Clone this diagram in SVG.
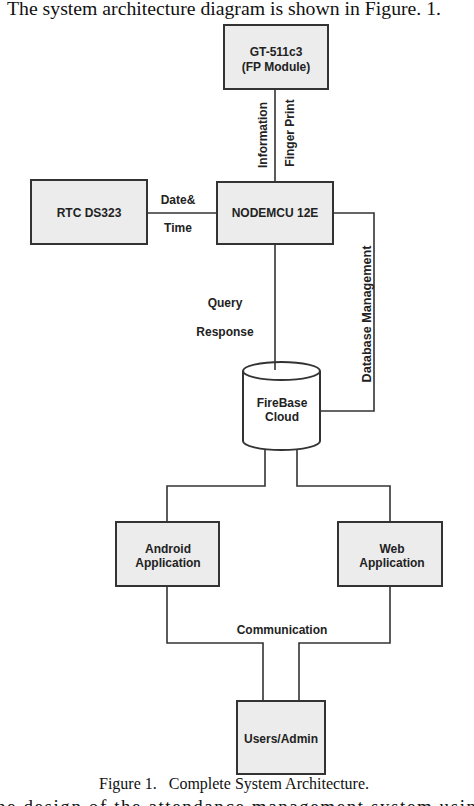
<svg xmlns="http://www.w3.org/2000/svg" width="474" height="806" viewBox="0 0 474 806">
<style>
.box{fill:#ececec;stroke:#333;stroke-width:2}
.ln{fill:none;stroke:#333;stroke-width:1.6}
.lb{font-family:"Liberation Sans",Arial,sans-serif;font-weight:bold;font-size:12px;fill:#222;text-anchor:middle}
.ser{font-family:"Liberation Serif","Times New Roman",serif;fill:#111}
</style>
<rect width="474" height="806" fill="#fff"/>
<text class="ser" x="7" y="15" font-size="18" textLength="434" lengthAdjust="spacingAndGlyphs">The system architecture diagram is shown in Figure. 1.</text>
<g id="connectors">
<line class="ln" x1="275" y1="89" x2="275" y2="182"/>
<line class="ln" x1="147" y1="213" x2="217" y2="213"/>
<line class="ln" x1="275" y1="244" x2="275" y2="370"/>
<polyline class="ln" points="333,213 374,213 374,411 320,411"/>
<polyline class="ln" points="265,450 265,486 167,486 167,522"/>
<polyline class="ln" points="297,450 297,486 390,486 390,522"/>
<polyline class="ln" points="167,586 167,643 263,643 263,701"/>
<polyline class="ln" points="390,586 390,643 299,643 299,701"/>
<text class="lb" transform="translate(267,135) rotate(-90)">Information</text>
<text class="lb" transform="translate(294,133) rotate(-90)">Finger Print</text>
<text class="lb" x="178" y="204">Date&amp;</text>
<text class="lb" x="178" y="232">Time</text>
<text class="lb" x="225" y="307">Query</text>
<text class="lb" x="225" y="336">Response</text>
<text class="lb" transform="translate(371,314) rotate(-90)" textLength="137" lengthAdjust="spacingAndGlyphs">Database Management</text>
<text class="lb" x="282" y="634">Communication</text>
</g>
<g id="gt511c3">
<rect class="box" x="224" y="25" width="104" height="64"/>
<text class="lb" x="276" y="56">GT-511c3</text>
<text class="lb" x="276" y="71">(FP Module)</text>
</g>
<g id="rtc">
<rect class="box" x="31" y="180" width="116" height="64"/>
<text class="lb" x="89" y="217">RTC DS323</text>
</g>
<g id="nodemcu">
<rect class="box" x="217" y="182" width="116" height="62"/>
<text class="lb" x="275" y="217">NODEMCU 12E</text>
</g>
<g id="firebase">
<path d="M243,371 L243,441 A38.5,9 0 0 0 320,441 L320,371" fill="#fff" stroke="#333" stroke-width="2"/>
<ellipse cx="281.5" cy="371" rx="38.5" ry="9" fill="#fff" stroke="#333" stroke-width="2"/>
<line class="ln" x1="275" y1="362" x2="275" y2="370"/>
<text class="lb" x="282" y="407">FireBase</text>
<text class="lb" x="282" y="421">Cloud</text>
</g>
<g id="android">
<rect class="box" x="116" y="522" width="103" height="64"/>
<text class="lb" x="168" y="553">Android</text>
<text class="lb" x="168" y="567">Application</text>
</g>
<g id="web">
<rect class="box" x="338" y="522" width="104" height="64"/>
<text class="lb" x="392" y="553">Web</text>
<text class="lb" x="392" y="567">Application</text>
</g>
<g id="users">
<rect class="box" x="237" y="701" width="88" height="73"/>
<text class="lb" x="281" y="743">Users/Admin</text>
</g>
<text class="ser" x="99" y="789" font-size="16" textLength="270" lengthAdjust="spacingAndGlyphs" xml:space="preserve">Figure 1.   Complete System Architecture.</text>
<text class="ser" x="-4" y="813" font-size="19" textLength="480" lengthAdjust="spacing">he design of the attendance management system usin</text>
</svg>
